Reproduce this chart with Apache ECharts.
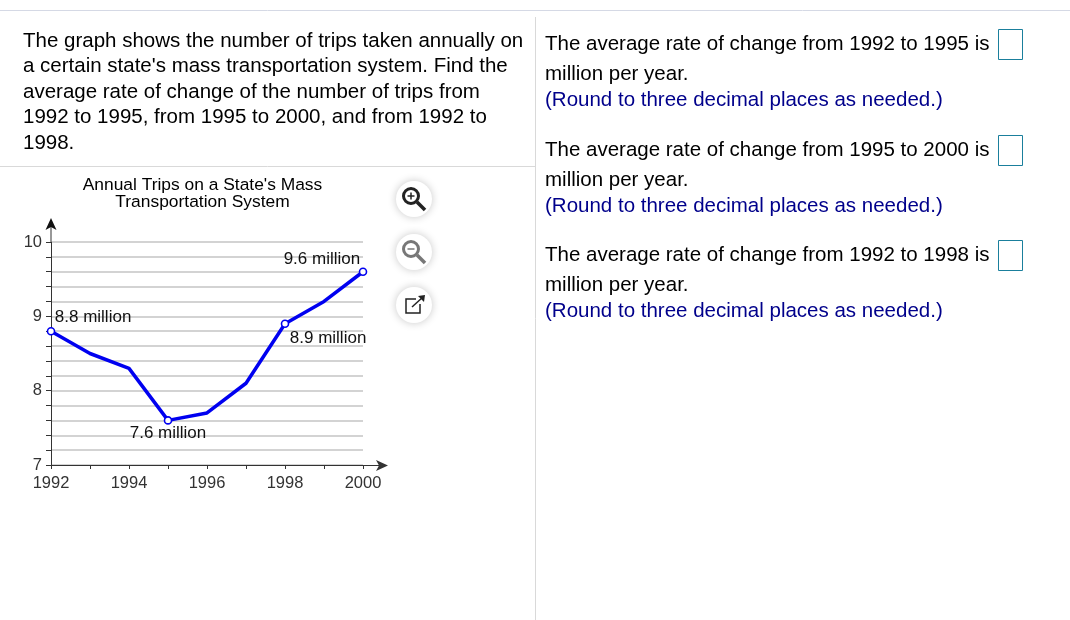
<!DOCTYPE html>
<html>
<head>
<meta charset="utf-8">
<style>
  html, body { margin: 0; padding: 0; background: #fff; }
  #chart { width: 1070px; height: 620px; }
</style>
<script src="https://cdn.jsdelivr.net/npm/echarts@6/dist/echarts.min.js"></script>
</head>
<body>
<div id="chart"></div>
<script>
const FONT = '"Liberation Sans", Arial, sans-serif';

const years = [1992, 1993, 1994, 1995, 1996, 1997, 1998, 1999, 2000];
const trips = [8.8, 8.5, 8.3, 7.6, 7.7, 8.1, 8.9, 9.2, 9.6];
const xTickLabels = [1992, 1994, 1996, 1998, 2000];
const yTickLabels = [7, 8, 9, 10];
const chartTitle = ["Annual Trips on a State's Mass", "Transportation System"];
const questionLines = [
  "The graph shows the number of trips taken annually on",
  "a certain state's mass transportation system. Find the",
  "average rate of change of the number of trips from",
  "1992 to 1995, from 1995 to 2000, and from 1992 to",
  "1998."
];
const answerLines = [
  "The average rate of change from 1992 to 1995 is",
  "The average rate of change from 1995 to 2000 is",
  "The average rate of change from 1992 to 1998 is"
];
const unitLine = "million per year.";
const roundLine = "(Round to three decimal places as needed.)";

// which points get a hollow marker and a callout
const callouts = {
  1992: { text: "8.8 million", position: "right", distance: 0, offset: [-0.5, -14] },
  1995: { text: "7.6 million", position: "bottom", distance: 0, offset: [0, 0] },
  1998: { text: "8.9 million", position: "right", distance: 0.5, offset: [0, 15] },
  2000: { text: "9.6 million", position: "left", distance: 0, offset: [1.5, -12] }
};

const seriesData = years.map((y, i) => {
  const c = callouts[y];
  if (!c) return { value: [y, trips[i]], symbol: "none" };
  return {
    value: [y, trips[i]],
    symbol: "circle",
    symbolSize: 7,
    label: {
      show: true, formatter: c.text, position: c.position, distance: c.distance, offset: c.offset,
      color: "#111", fontSize: 17, fontFamily: FONT
    }
  };
});

function text(str, x, y, o) {
  return {
    type: "text", x, y, silent: true,
    style: Object.assign({ text: str, fill: "#000", fontSize: 20.5, fontFamily: FONT, verticalAlign: "middle" }, o)
  };
}
function rule(x1, y1, x2, y2, color) {
  return { type: "line", silent: true, shape: { x1, y1, x2, y2 }, style: { stroke: color, lineWidth: 1 } };
}
function box(x, y) {
  return { type: "rect", silent: true, shape: { x, y, width: 24, height: 30 }, style: { fill: "#fff", stroke: "#1a7f9c", lineWidth: 1 } };
}
function iconDisc(cx, cy) {
  return {
    type: "circle", silent: true, shape: { cx, cy, r: 18 },
    style: { fill: "#fff", shadowBlur: 9, shadowColor: "rgba(0,0,0,.22)" }
  };
}
function magnifier(cx, cy, color, plus) {
  const els = [
    { type: "circle", silent: true, shape: { cx: cx - 3, cy: cy - 3, r: 7.5 }, style: { fill: "none", stroke: color, lineWidth: 3 } },
    { type: "line", silent: true, shape: { x1: cx + 3, y1: cy + 3, x2: cx + 11, y2: cy + 11 }, style: { stroke: color, lineWidth: 3.5 } },
    { type: "line", silent: true, shape: { x1: cx - 6.5, y1: cy - 3, x2: cx + 0.5, y2: cy - 3 }, style: { stroke: color, lineWidth: 1.5 } }
  ];
  if (plus) els.push({ type: "line", silent: true, shape: { x1: cx - 3, y1: cy - 6.5, x2: cx - 3, y2: cy + 0.5 }, style: { stroke: color, lineWidth: 1.5 } });
  return els;
}

const graphics = [
  rule(0, 10.5, 1070, 10.5, "#d5d9e5"),
  rule(535.5, 17, 535.5, 620, "#d9d9d9"),
  rule(0, 166.5, 535, 166.5, "#d9d9d9"),

  // axis stubs past the plot, and their arrowheads
  rule(51, 242, 51, 222, "#333"),
  rule(363, 465.5, 380, 465.5, "#333"),
  { type: "polygon", silent: true, shape: { points: [[51, 218], [45.5, 230], [51, 227], [56.5, 230]] }, style: { fill: "#111" } },
  { type: "polygon", silent: true, shape: { points: [[388, 465.5], [376, 460], [379, 465.5], [376, 471]] }, style: { fill: "#333" } },

  iconDisc(414, 199), iconDisc(414, 252), iconDisc(414, 305),
  ...magnifier(414, 199, "#222", true),
  ...magnifier(414, 252, "#777", false),
  { type: "polyline", silent: true, shape: { points: [[416, 299], [406, 299], [406, 313], [420, 313], [420, 304]] }, style: { fill: "none", stroke: "#222", lineWidth: 1.5 } },
  { type: "line", silent: true, shape: { x1: 412, y1: 307, x2: 423, y2: 297 }, style: { stroke: "#222", lineWidth: 1.5 } },
  { type: "polygon", silent: true, shape: { points: [[425, 295], [418, 296], [424, 302]] }, style: { fill: "#222" } }
];

questionLines.forEach((l, i) => graphics.push(text(l, 23, 41 + i * 25.5, {})));
chartTitle.forEach((l, i) => graphics.push(text(l, 202.5, 185.5 + i * 17, { fontSize: 17.4, textAlign: "center" })));

answerLines.forEach((l, i) => {
  const top = 44.5 + i * 105.5;
  graphics.push(text(l, 545, top, {}));
  graphics.push(box(998.5, Math.floor(top - 15) + 0.5));
  graphics.push(text(unitLine, 545, top + 30, {}));
  graphics.push(text(roundLine, 545, top + 56, { fill: "#00008b" }));
});

const chart = echarts.init(document.getElementById("chart"), null, { renderer: "canvas" });
chart.setOption({
  animation: false,
  grid: { left: 51, right: 707, top: 242, bottom: 155 },
  xAxis: {
    type: "value", min: 1992, max: 2000, interval: 1,
    axisLine: { onZero: false, lineStyle: { color: "#333", width: 1 } },
    axisTick: { length: 4, lineStyle: { color: "#333" } },
    axisLabel: {
      customValues: xTickLabels, formatter: v => String(v), margin: 10,
      color: "#333", fontSize: 16.5, fontFamily: FONT
    },
    splitLine: { show: false }
  },
  yAxis: {
    type: "value", min: 7, max: 10, interval: 0.2,
    axisLine: { show: true, onZero: false, lineStyle: { color: "#333", width: 1 } },
    axisTick: { show: true, length: 5, lineStyle: { color: "#333" } },
    axisLabel: {
      customValues: yTickLabels, margin: 9,
      color: "#333", fontSize: 16.5, fontFamily: FONT
    },
    splitLine: { show: true, lineStyle: { color: "#c4c4c4", width: 1.5 } }
  },
  series: [{
    type: "line",
    clip: false,
    z: 5,
    showAllSymbol: true,
    lineStyle: { color: "#0000f0", width: 3.5, cap: "round", join: "round" },
    itemStyle: { color: "#fff", borderColor: "#0000f0", borderWidth: 1.6 },
    data: seriesData
  }],
  graphic: graphics
});
</script>
</body>
</html>
